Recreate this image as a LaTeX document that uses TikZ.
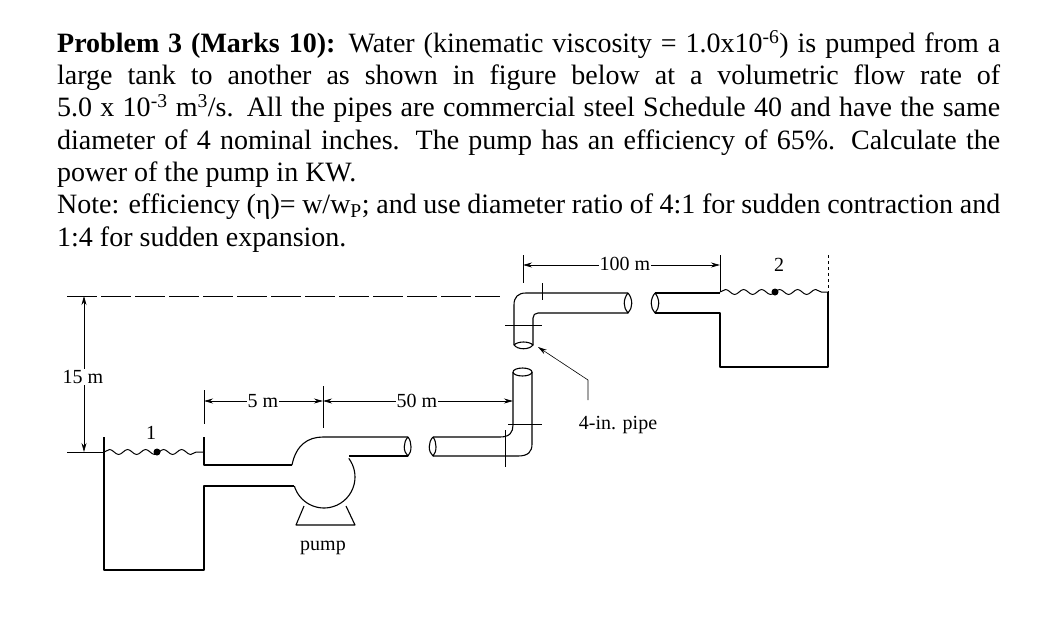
\documentclass[tikz,border=0pt]{standalone}
\usepackage{fontspec}
\setmainfont{Liberation Serif}
\usetikzlibrary{arrows.meta,decorations.pathmorphing}
\begin{document}
\begin{tikzpicture}[x=1pt,y=-1pt,
  pipe/.style={line width=1.1pt,line join=round},
  thin/.style={line width=0.6pt},
  dim/.style={line width=0.7pt,{Stealth[length=9pt,width=5pt]}-{Stealth[length=9pt,width=5pt]}},
  lab/.style={font=\fontsize{20}{22}\selectfont,fill=white,inner sep=1pt},
  wave/.style={line width=1pt,decorate,decoration={snake,amplitude=2.5pt,segment length=18pt}}]
\useasboundingbox (0,0) rectangle (1063,625);
\node[anchor=north west,inner sep=0pt,text width=943pt,align=justify,font=\fontsize{28}{32.3}\selectfont] (txt) at (57,30)
{\textbf{Problem 3 (Marks 10):} Water (kinematic viscosity = 1.0x10\textsuperscript{-6}) is pumped from a\linebreak large tank to another as shown in figure below at a volumetric flow rate of\linebreak 5.0 x 10\textsuperscript{-3} m\textsuperscript{3}/s. All the pipes are commercial steel Schedule 40 and have the same\linebreak diameter of 4 nominal inches. The pump has an efficiency of 65\%. Calculate the\linebreak power of the pump in KW.\par
Note: efficiency (η)= w/w\textsubscript{P}; and use diameter ratio of 4:1 for sudden contraction and\linebreak 1:4 for sudden expansion.};
% datum lines
\draw[thin,dash pattern=on 30pt off 4pt] (67,296) -- (500,296);
\draw[thin] (67,452) -- (103,452);
\coordinate (h1) at (84,296); \coordinate (h2) at (84,452);
\draw[dim] (h1) -- (h2);
\node[lab] (l15) at (83,377) {15 m};
% tank 1
\draw[pipe] (104,437) -- (104,570) -- (204,570) -- (204,486) -- (294,486);
\draw[pipe] (204,437) -- (204,465) -- (292,465);
\draw[wave] (104,452) -- (204,452);
\fill (157,452) circle (3.5pt);
\node[lab,fill=none] (n1) at (151,433) {1};
% pump
\draw[pipe] (292,465) .. controls (296,445) and (308,437) .. (323,437) -- (408,437);
\draw[pipe] (324,477) ++(163:31) arc[start angle=163,end angle=-37,radius=31];
\draw[pipe] (349,456) -- (408,456);
\draw[pipe] (408,437) .. controls (403,442) and (403,452) .. (408,456) .. controls (412,452) and (412,442) .. (408,437);
\draw[pipe] (304,506) -- (296,525) -- (355,525) -- (346,506);
\node[lab,fill=none] (pump) at (323,548) {pump};
% 5 m, 50 m dims
\draw[thin] (204,390) -- (204,424);
\draw[thin] (323,386) -- (323,428);
\draw[dim] (204,401) -- (323,401);
\draw[dim] (323,401) -- (513,401);
\node[lab] (l5) at (263,401) {5 m};
\node[lab] (l50) at (417,401) {50 m};
% lower elbow
\draw[pipe] (433,437) -- (500,437) .. controls (510,437) and (513,432) .. (513,425) -- (513,372);
\draw[pipe] (433,456) -- (518,456) .. controls (528,456) and (532,452) .. (532,444) -- (532,372);
\draw[pipe] (433,437) .. controls (428,442) and (428,452) .. (433,456) .. controls (437,452) and (437,442) .. (433,437);
\draw[pipe] (522.5,372) ellipse (9.5pt and 4pt);
\draw[thin] (505,430) -- (505,467);
\draw[thin] (508,424) -- (542,424);
% upper elbow
\draw[pipe] (514,345) -- (514,305) .. controls (514,297) and (518,293) .. (526,293) -- (628,293);
\draw[pipe] (533,345) -- (533,318) .. controls (533,315) and (535,313) .. (538,313) -- (628,313);
\draw[pipe] (628,293) .. controls (623,299) and (623,308) .. (628,313) .. controls (633,308) and (633,299) .. (628,293);
\draw[pipe] (514,345) .. controls (518,350) and (529,350) .. (533,345) .. controls (529,341) and (518,341) .. (514,345);
\draw[thin] (505,325) -- (542,325);
\draw[thin] (542,283) -- (542,300);
\draw[thin] (523,255) -- (523,283);
% upper right pipe and tank 2
\draw[pipe] (655,293) -- (720,293);
\draw[pipe] (655,313) -- (720,313) -- (720,367) -- (828,367) -- (828,292);
\draw[pipe] (655,293) .. controls (650,299) and (650,308) .. (655,313) .. controls (660,308) and (660,299) .. (655,293);
\draw[wave] (720,292) -- (828,292);
\fill (775,292) circle (3.5pt);
\node[lab,fill=none] (n2) at (779,265) {2};
\draw[thin] (720,255) -- (720,292);
\draw[thin,dashed] (828,255) -- (828,360);
\draw[dim] (523,265) -- (720,265);
\node[lab] (l100) at (625,264) {100 m};
% 4-in pipe
\coordinate (pa) at (588,400);
\coordinate (pb) at (588,380);
\coordinate (pt) at (538,347);
\draw[thin,-{Stealth[length=9pt,width=5pt]}] (pa) -- (pb) -- (pt);
\node[lab,fill=none] (pl) at (618,425) {4-in. pipe};
\end{tikzpicture}
\end{document}
